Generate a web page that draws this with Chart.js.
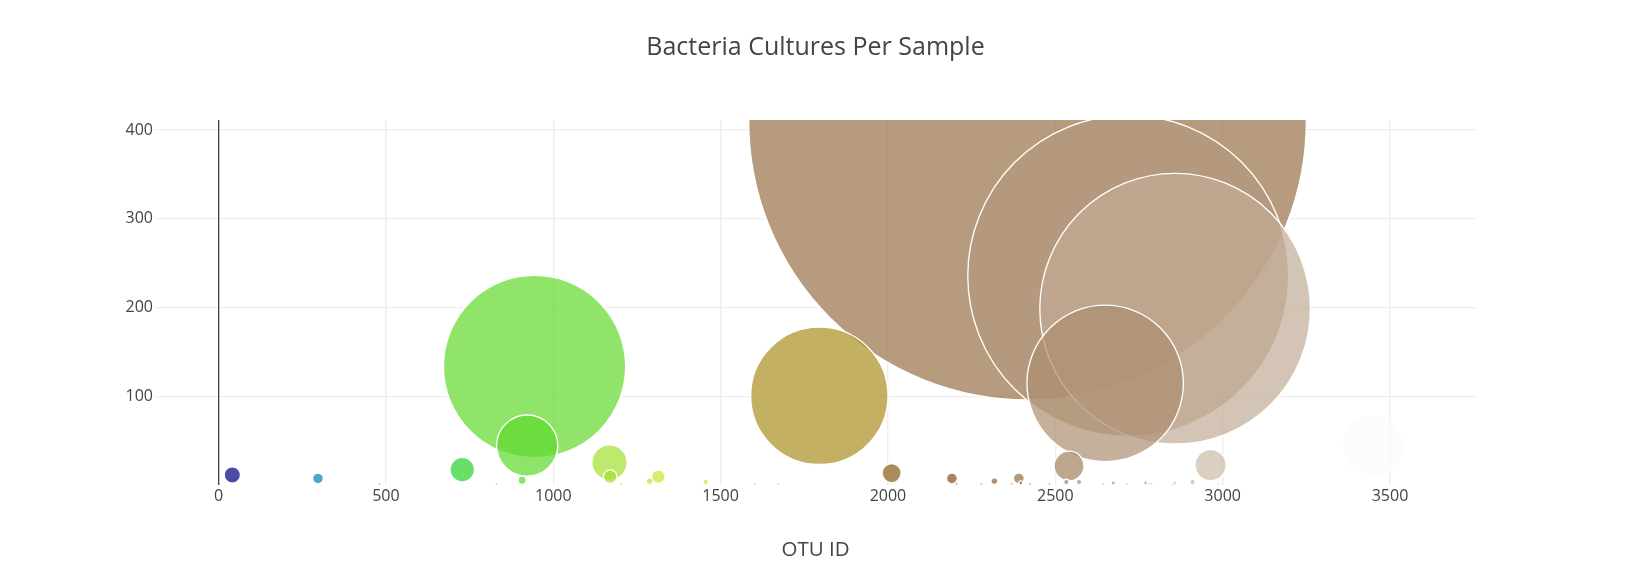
<!DOCTYPE html>
<html>
<head>
<meta charset="utf-8">
<script src="https://cdn.jsdelivr.net/npm/chart.js@4.4.1/dist/chart.umd.min.js"></script>
<style>
  html, body { margin: 0; padding: 0; background: #fff; }
  #wrap { width: 1631px; height: 576px; position: relative; }
</style>
</head>
<body>
<div id="wrap"><canvas id="c"></canvas></div>
<script>
// ---- data, sorted by sample value, largest first ----
const otuIds = [2417, 2718, 2858, 944, 2649, 1795, 922, 3450, 1168, 2964, 2541, 728, 2011, 41,
  1170, 1314, 297, 2191, 2391, 907, 2318, 1288, 2533, 2571, 2910, 1455,
  2770, 2857, 2673, 2397, 2279, 2205, 2370, 2483, 2643, 2713, 2782, 2987, 2424, 2788, 2852,
  481, 830, 1203, 1602, 1672];
const sampleValues = [410, 236, 199, 134, 115, 101, 45, 45, 26, 23, 22, 18, 14, 12,
  10, 10, 8, 8, 8, 6, 5, 5, 4, 4, 4, 4,
  3, 3, 3, 3, 2, 2, 2, 2, 2, 2, 2, 2, 2, 2, 2,
  2, 2, 2, 2, 2];
const xTickValues = [0, 500, 1000, 1500, 2000, 2500, 3000, 3500];
const yTickValues = [100, 200, 300, 400];
const titleText = 'Bacteria Cultures Per Sample';
const xTitleText = 'OTU ID';

// ---- style ----
const S = 4 / 3;                 // render scale of the reference
const SIZE = 1.36;               // marker diameter in px per unit of sample value
const colorMin = 41, colorMax = 3480;
const earth = [[0, [0, 0, 130]], [0.1, [0, 180, 180]], [0.2, [40, 210, 40]],
               [0.4, [230, 230, 50]], [0.6, [120, 70, 20]], [1, [255, 255, 255]]];
function earthColor(v, alpha) {
  let t = (v - colorMin) / (colorMax - colorMin);
  t = Math.max(0, Math.min(1, t));
  for (let i = 1; i < earth.length; i++) {
    if (t <= earth[i][0]) {
      const [t0, c0] = earth[i - 1], [t1, c1] = earth[i];
      const f = (t - t0) / (t1 - t0);
      const c = c0.map((a, k) => Math.round(a + (c1[k] - a) * f));
      return `rgba(${c[0]},${c[1]},${c[2]},${alpha})`;
    }
  }
  return `rgba(255,255,255,${alpha})`;
}

const points = otuIds.map((id, i) => ({ x: id, y: sampleValues[i], r: sampleValues[i] * SIZE / 2 }));
const colors = otuIds.map(id => earthColor(id, 0.7));

const font = 'Open Sans';
new Chart(document.getElementById('c'), {
  type: 'bubble',
  data: {
    datasets: [{
      data: points,
      backgroundColor: colors,
      borderColor: '#ffffff',
      borderWidth: S,
      clip: 0
    }]
  },
  options: {
    responsive: true,
    maintainAspectRatio: false,
    animation: false,
    events: [],
    layout: { autoPadding: false, padding: 0 },
    plugins: {
      legend: { display: false },
      tooltip: { enabled: false },
      title: {
        display: true,
        text: titleText,
        color: '#444',
        font: { family: font, size: 25, weight: 'normal', lineHeight: 1.2 },
        padding: { top: 33, bottom: 57 }
      }
    },
    scales: {
      x: {
        type: 'linear',
        min: -190, max: 3757,
        afterBuildTicks: s => { s.ticks = xTickValues.map(v => ({ value: v })); },
        afterFit: s => { s.height = 91.5; },
        border: { display: false },
        grid: {
          z: -0.5,
          drawTicks: false,
          lineWidth: S,
          color: c => (c.tick && c.tick.value === 0) ? '#444' : '#eee'
        },
        ticks: { color: '#444', font: { family: font, size: 16 }, padding: 2, maxRotation: 0,
                 callback: v => String(v) },
        title: {
          display: true, text: xTitleText, color: '#444',
          font: { family: font, size: 20.5 }, padding: { top: 0, bottom: 13.7 }
        }
      },
      y: {
        type: 'linear',
        min: 1.2, max: 411.3,
        afterBuildTicks: s => { s.ticks = yTickValues.map(v => ({ value: v })); },
        afterFit: s => { s.width = 155; },
        border: { display: false },
        grid: { z: -1, drawTicks: false, lineWidth: S, color: '#eee' },
        ticks: { color: '#444', font: { family: font, size: 16 }, padding: 2,
                 callback: v => String(v) }
      },
      yRight: {
        type: 'linear',
        position: 'right',
        min: 0, max: 1,
        afterFit: s => { s.width = 155; },
        border: { display: false },
        grid: { display: false },
        ticks: { display: false }
      }
    }
  }
});
</script>
</body>
</html>
